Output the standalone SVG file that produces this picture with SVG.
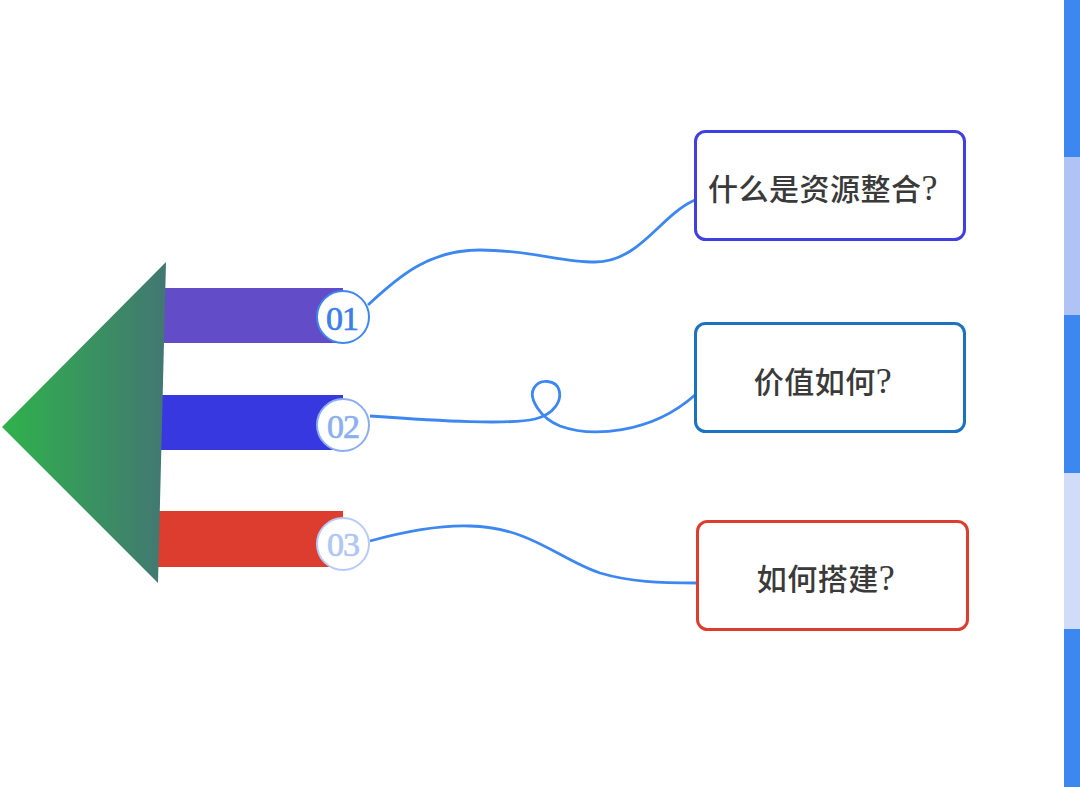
<svg xmlns="http://www.w3.org/2000/svg" width="1080" height="787" viewBox="0 0 1080 787">
<defs>
<linearGradient id="tri" x1="0" y1="0" x2="1" y2="0">
<stop offset="0" stop-color="#2fb24b"/>
<stop offset="1" stop-color="#427773"/>
</linearGradient>
<style>
.box{fill:#fff;stroke-width:3}
.lbl{font-family:"Liberation Serif","Noto Sans CJK SC",serif;font-size:30px;fill:#3a3a3a;font-weight:500;text-anchor:middle;letter-spacing:0.5px}
.q{font-size:36px}
.num{font-family:"Liberation Serif",serif;font-size:34px;text-anchor:middle;letter-spacing:-1px;stroke-width:0.7}
.conn{fill:none;stroke:#3d87f0;stroke-width:2.8}
.circ{fill:#fff;stroke-width:2}
</style>
</defs>
<rect width="1080" height="787" fill="#fff"/>
<g id="sidebar">
<rect x="1064" y="0" width="16" height="157" fill="#3d87f0"/>
<rect x="1064" y="157" width="16" height="158" fill="#b1c3f5"/>
<rect x="1064" y="315" width="16" height="158" fill="#3d87f0"/>
<rect x="1064" y="473" width="16" height="156" fill="#d0dcf8"/>
<rect x="1064" y="629" width="16" height="158" fill="#3d87f0"/>
</g>
<g id="bars">
<rect x="158" y="288" width="185" height="55" fill="#624cc8"/>
<rect x="158" y="395" width="185" height="55" fill="#3838e0"/>
<rect x="155" y="511" width="188" height="56" fill="#dc3d2f"/>
</g>
<g id="arrow">
<polygon points="2,427 166,262 158,583" fill="url(#tri)"/>
</g>
<g id="connectors">
<path class="conn" d="M368,305 C400,275 430,250 480,250 C530,250 560,262 595,262 C640,262 660,215 695,200"/>
<path class="conn" d="M370,416 C440,421 510,425 535,419 C555,414 562,400 559,390 C556,380 540,378 534,388 C528,398 540,418 560,426 C590,437 650,435 695,395"/>
<path class="conn" d="M370,541 C410,530 440,525 470,526 C530,527 560,560 600,573 C630,582 660,583 697,583"/>
</g>
<g id="n01">
<circle class="circ" cx="343" cy="317" r="26" stroke="#3d87f0"/>
<text class="num" x="342" y="330" fill="#3d7fe8" stroke="#3d7fe8" letter-spacing="-3">01</text>
</g>
<g id="n02">
<circle class="circ" cx="343" cy="425" r="26" stroke="#8aaef0"/>
<text class="num" x="343" y="438" fill="#8caff0" stroke="#8caff0">02</text>
</g>
<g id="n03">
<circle class="circ" cx="343" cy="544" r="26" stroke="#b8caf6"/>
<text class="num" x="343" y="556" fill="#b0c6f4" stroke="#b0c6f4">03</text>
</g>
<g id="box1">
<rect class="box" x="695.5" y="131.5" width="269" height="108" rx="10" stroke="#4040e0"/>
<text class="lbl" x="823" y="200">什么是资源整合<tspan class="q">?</tspan></text>
</g>
<g id="box2">
<rect class="box" x="695.5" y="323.5" width="269" height="108" rx="10" stroke="#1a72c0"/>
<text class="lbl" x="823" y="393">价值如何<tspan class="q">?</tspan></text>
</g>
<g id="box3">
<rect class="box" x="697.5" y="521.5" width="270" height="108" rx="10" stroke="#dc3d2f"/>
<text class="lbl" x="826" y="590">如何搭建<tspan class="q">?</tspan></text>
</g>
</svg>
